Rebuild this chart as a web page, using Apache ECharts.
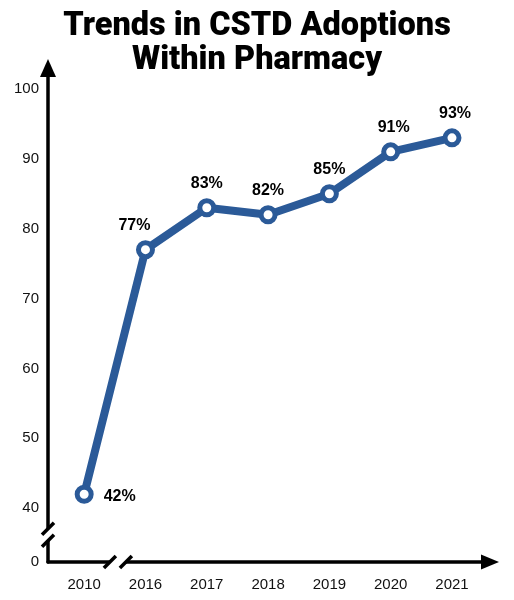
<!DOCTYPE html>
<html>
<head>
<meta charset="utf-8">
<script src="https://cdn.jsdelivr.net/npm/echarts@6/dist/echarts.min.js"></script>
<style>
  html, body { margin: 0; padding: 0; background: #fff; }
  #chart { width: 514px; height: 600px; }
</style>
</head>
<body>
<div id="chart"></div>
<script>
// data
var years = ['2010', '2016', '2017', '2018', '2019', '2020', '2021'];
var adoption = [42, 77, 83, 82, 85, 91, 93];
var yTicks = [40, 50, 60, 70, 80, 90, 100];
var yBottomLabel = '0';

var BLUE = '#2b5a98';
var yMin = 32.3, yMax = 103;
var xMin = -0.59, xMax = 6.62;

var chart = echarts.init(document.getElementById('chart'));

var points = [];
for (var i = 0; i < years.length; i++) {
    var lbl = { position: 'top', distance: 7 };
    if (i == 0) lbl = { position: 'right', distance: 10, offset: [0, 2] };
    if (i == 1) lbl = { position: 'top', distance: 7, offset: [-11, 0] };
    if (i >= 5) lbl = { position: 'top', distance: 7, offset: [3, 0] };
    points.push({ value: [i, adoption[i]], label: lbl });
}

option = {
    animation: false,
    title: {
        text: 'Trends in CSTD Adoptions\nWithin Pharmacy',
        left: 'center',
        top: 5,
        textStyle: {
            fontFamily: 'Roboto, Liberation Sans, Arial, sans-serif',
            fontWeight: 900,
            fontSize: 32.5,
            lineHeight: 34,
            color: '#000'
        }
    },
    grid: { left: 48, right: 24, top: 68, bottom: 38 },
    xAxis: {
        type: 'value',
        min: xMin,
        max: xMax,
        splitLine: { show: false },
        axisTick: { show: false },
        axisLine: {
            show: true,
            onZero: false,
            symbol: ['none', 'triangle'],
            symbolSize: [15, 18],
            lineStyle: { color: '#000', width: 3.5 }
        },
        axisLabel: {
            customValues: years.map(function (y, i) { return i; }),
            formatter: function (v) { return years[Math.round(v)]; },
            color: '#111',
            fontSize: 15,
            fontFamily: 'Liberation Sans, Arial, sans-serif',
            margin: 15
        }
    },
    yAxis: {
        type: 'value',
        min: yMin,
        max: yMax,
        splitLine: { show: false },
        axisTick: { show: false },
        axisLine: {
            show: true,
            onZero: false,
            symbol: ['none', 'triangle'],
            symbolSize: [16, 18],
            lineStyle: { color: '#000', width: 3.5 }
        },
        axisLabel: {
            customValues: [yMin].concat(yTicks),
            formatter: function (v) { return v < yTicks[0] ? yBottomLabel : String(v); },
            color: '#111',
            fontSize: 15,
            fontFamily: 'Liberation Sans, Arial, sans-serif',
            margin: 9
        }
    },
    series: [{
        type: 'line',
        data: points,
        symbol: 'circle',
        symbolSize: 14,
        lineStyle: { color: BLUE, width: 8 },
        itemStyle: { color: '#fff', borderColor: BLUE, borderWidth: 5 },
        label: {
            show: true,
            formatter: function (p) { return p.value[1] + '%'; },
            color: '#000',
            fontWeight: 'bold',
            fontSize: 16,
            fontFamily: 'Liberation Sans, Arial, sans-serif'
        },
        z: 3
    }]
};
chart.setOption(option);

// axis break marks (two slashes over a white gap)
function breakMarks(cx, cy, horizontal, gap) {
    var g = [];
    var dx = horizontal ? gap : 0, dy = horizontal ? 0 : gap;
    g.push({
        type: 'rect',
        shape: horizontal ? { x: cx - dx, y: cy - 4, width: dx * 2, height: 8 }
                          : { x: cx - 4, y: cy - dy, width: 8, height: dy * 2 },
        style: { fill: '#fff' },
        z: 100
    });
    [-1, 1].forEach(function (s) {
        var ox = cx + s * dx, oy = cy + s * dy;
        g.push({
            type: 'line',
            shape: { x1: ox - 6, y1: oy + 6, x2: ox + 6, y2: oy - 6 },
            style: { stroke: '#000', lineWidth: 3.5 },
            z: 101
        });
    });
    return g;
}
var yb = chart.convertToPixel({ gridIndex: 0 }, [xMin, 36.2]);
var xb = chart.convertToPixel({ gridIndex: 0 }, [0.55, yMin]);
chart.setOption({ graphic: breakMarks(yb[0], yb[1], false, 6).concat(breakMarks(xb[0], xb[1], true, 8)) });
</script>
</body>
</html>
